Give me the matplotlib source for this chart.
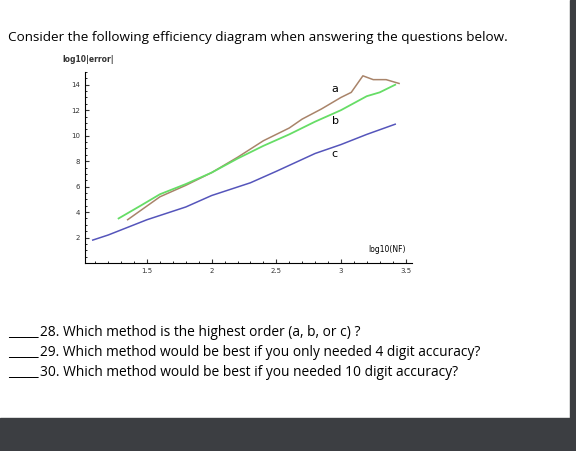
import matplotlib
matplotlib.use("Agg")
import matplotlib.pyplot as plt
from matplotlib.patches import Rectangle

a_x = [1.35, 1.6, 1.8, 2.0, 2.2, 2.4, 2.6, 2.7, 2.85, 3.0, 3.08, 3.17, 3.25, 3.35, 3.45]
a_y = [3.4, 5.2, 6.1, 7.1, 8.3, 9.6, 10.6, 11.3, 12.1, 13.0, 13.4, 14.7, 14.4, 14.4, 14.1]
b_x = [1.28, 1.45, 1.6, 1.8, 2.0, 2.2, 2.4, 2.6, 2.8, 3.0, 3.2, 3.3, 3.42]
b_y = [3.5, 4.5, 5.4, 6.2, 7.1, 8.2, 9.2, 10.1, 11.1, 12.0, 13.1, 13.4, 14.0]
c_x = [1.08, 1.2, 1.5, 1.8, 2.0, 2.3, 2.5, 2.8, 3.0, 3.2, 3.42]
c_y = [1.8, 2.2, 3.4, 4.4, 5.3, 6.3, 7.2, 8.6, 9.3, 10.1, 10.9]
x_ticks = [1.5, 2, 2.5, 3, 3.5]
y_ticks = [2, 4, 6, 8, 10, 12, 14]

fig = plt.figure(figsize=(5.76, 4.51), dpi=100)
fig.patch.set_facecolor("white")
ax = fig.add_axes([85/576, 1-263/451, 327/576, 191/451])
ax.plot(a_x, a_y, color="#a9846a", lw=1.1)
ax.plot(b_x, b_y, color="#66dd66", lw=1.3)
ax.plot(c_x, c_y, color="#5555bb", lw=1.1)
ax.set_xlim(1.02, 3.55)
ax.set_ylim(0, 15)
ax.set_xticks(x_ticks)
ax.set_xticklabels(["1.5", "2", "2.5", "3", "3.5"])
ax.set_yticks(y_ticks)
ax.tick_params(labelsize=5, length=3, direction="in", colors="#333333")
ax.minorticks_on()
ax.tick_params(which="minor", length=1.5, direction="in")
for s in ["top", "right"]:
    ax.spines[s].set_visible(False)
ax.text(2.93, 13.4, "a", fontsize=8)
ax.text(2.93, 10.9, "b", fontsize=8)
ax.text(2.93, 8.3, "c", fontsize=8)
ax.text(3.5, 0.9, "log10(NF)", fontsize=5.5, ha="right")
fig.text(62/576, 1-62/451, "log10|error|", fontsize=5.5, weight="bold", color="#333333")

fam = "Open Sans"
fig.text(8/576, 1-37/451, "Consider the following efficiency diagram when answering the questions below.",
         fontsize=9.7, family=fam, va="center")
qs = ["28. Which method is the highest order (a, b, or c) ?",
      "29. Which method would be best if you only needed 4 digit accuracy?",
      "30. Which method would be best if you needed 10 digit accuracy?"]
ys = [333, 352, 372]
for q, y in zip(qs, ys):
    fig.text(8/576, 1-y/451, "_____", fontsize=10, family=fam, va="center")
    fig.text(40/576, 1-y/451, q, fontsize=9.9, family=fam, va="center")
fig.add_artist(Rectangle((0, 0), 1, 33/451, transform=fig.transFigure, color="#3c3e42"))
fig.add_artist(Rectangle((570/576, 0), 6/576, 1, transform=fig.transFigure, color="#3c3e42"))
fig.savefig("out.png", dpi=100)
